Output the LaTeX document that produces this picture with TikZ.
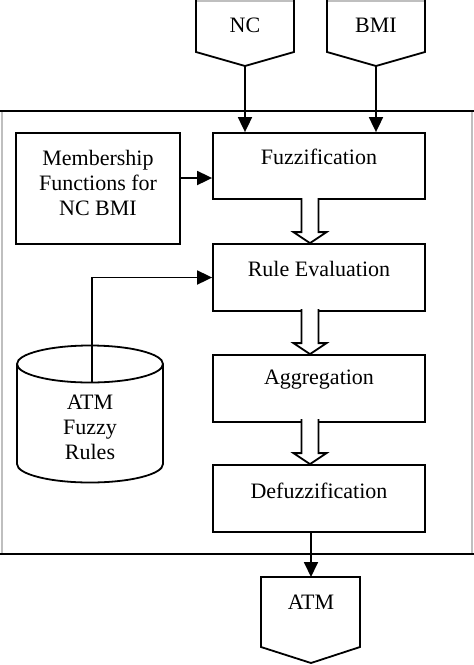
\documentclass[tikz,border=0pt]{standalone}
\usepackage{fontspec}
\setmainfont{Liberation Serif}
\usetikzlibrary{arrows.meta,calc}
\begin{document}
\begin{tikzpicture}[x=1pt,y=-1pt,
  every node/.style={font=\fontsize{22}{25}\selectfont},
  lw/.style={line width=1.8pt},
  box/.style={draw,lw,minimum width=212pt,minimum height=67pt,inner sep=0pt},
  txt/.style={inner sep=0pt,align=center},
  arr/.style={lw,-{Triangle[length=15pt,width=14pt]}},
  hollowarrow/.pic={\draw[lw,fill=white,line join=miter]
     (-8.5,-45) -- (-8.5,-11) -- (-16.5,-11) -- (0,0) -- (16.5,-11) -- (8.5,-11) -- (8.5,-45);},
  frameside/.style={line width=1.5pt,black!25}
]
\useasboundingbox (0,0) rectangle (474,665);

% outer frame
\draw[frameside] (2,111) -- (2,554);
\draw[frameside] (472,111) -- (472,554);
\draw[lw] (0,111) -- (474,111);
\draw[lw] (0,554) -- (474,554);

% input shapes
\draw[frameside] (196,0.75) -- (294,0.75);
\draw[frameside] (327,0.75) -- (425,0.75);
\draw[lw,line join=miter] (196,0) -- (196,52) -- (245,66) -- (294,52) -- (294,0);
\draw[lw,line join=miter] (327,0) -- (327,52) -- (376,66) -- (425,52) -- (425,0);
\coordinate (ncP) at (245,66);
\coordinate (bmiP) at (376,66);
\node[txt] (ncT) at (245,25) {NC};
\node[txt] (bmiT) at (376,25) {BMI};

% process boxes
\node[box,minimum height=66pt] (fuz) at (319,166) {};
\node[box] (rule) at (319,277.5) {};
\node[box] (agg) at (319,388.5) {};
\node[box] (def) at (319,498.5) {};
\node[txt] (fuzT) at (319,157) {Fuzzification};
\node[txt] (ruleT) at (319,269) {Rule Evaluation};
\node[txt] (aggT) at (319,380) {Aggregation};
\node[txt] (defT) at (319,491) {Defuzzification};

% membership box
\node[draw,lw,minimum width=164pt,minimum height=111pt,inner sep=0pt] (mem) at (98,188.5) {};
\node[txt] (memT) at (98,183) {Membership\\Functions for\\NC BMI};

% cylinder
\draw[lw] (17,364) -- (17,464) arc[start angle=180,end angle=360,x radius=73,y radius=-18.5] -- (163,364);
\draw[lw] (90,364) ellipse[x radius=73,y radius=18.5];
\coordinate (cylTop) at (92,382);
\node[txt] (cylT) at (90,427) {ATM\\Fuzzy\\Rules};

% output shape
\draw[lw,line join=miter] (261,577) -- (261,647) -- (311,663) -- (360,647) -- (360,577) -- cycle;
\node[txt] (atmT) at (311,602) {ATM};
\coordinate (atmTop) at (311,577);

% connectors
\draw[arr] (ncP) -- (ncP |- fuz.north);
\draw[arr] (bmiP) -- (bmiP |- fuz.north);
\coordinate (memOut) at (180,178);
\draw[arr] (memOut) -- (memOut -| fuz.west);
\draw[arr] (cylTop) |- (rule.west);
\coordinate (defOut) at (311,532);
\draw[arr] (defOut) -- (atmTop);

% hollow arrows
\coordinate (hx) at (310,0);
\pic at (hx |- rule.north) {hollowarrow};
\pic at (hx |- agg.north) {hollowarrow};
\pic at (hx |- def.north) {hollowarrow};
\end{tikzpicture}
\end{document}
